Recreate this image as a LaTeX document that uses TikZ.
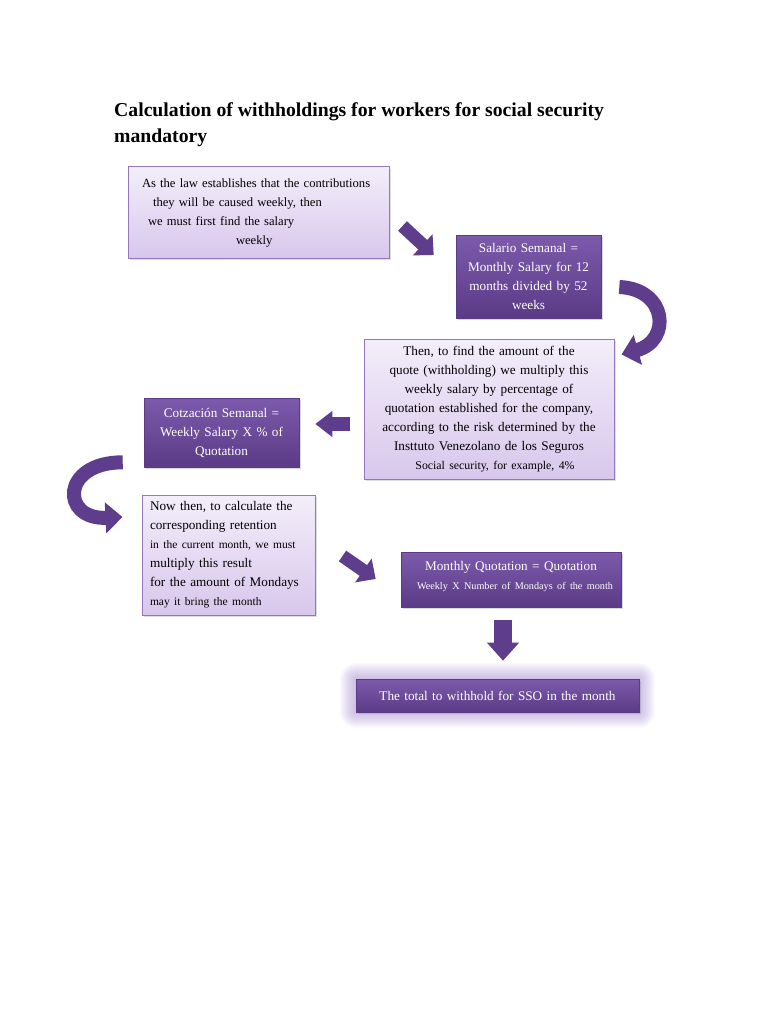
\documentclass[tikz,border=0pt]{standalone}
\usepackage{fontspec}
\setmainfont{Liberation Serif}
\usetikzlibrary{arrows.meta,shadows}

\definecolor{lightTop}{HTML}{F3EEFA}
\definecolor{lightBot}{HTML}{D8C7EC}
\definecolor{lightLine}{HTML}{9478BC}
\definecolor{darkTop}{HTML}{7D5AAC}
\definecolor{darkBot}{HTML}{5A3B86}
\definecolor{arrowPurple}{HTML}{5E3E8C}
\definecolor{glowPurple}{HTML}{9070C4}

\newcommand{\smalltext}[1]{\fontsize{#1}{19}\selectfont}

\begin{document}
\begin{tikzpicture}
	[
	x=1pt, y=-1pt, font=\fontsize{13.2}{19}\selectfont,
	%Voreinstellungen fuer Kaesten und Pfeile
	lightbox/.style={draw=lightLine, line width=1pt, top color=lightTop, bottom color=lightBot,
		inner ysep=0pt, drop shadow={opacity=0.25, shadow xshift=2pt, shadow yshift=-2pt}},
	darkbox/.style={draw=darkBot, line width=0.6pt, top color=darkTop, bottom color=darkBot,
		text=white, inner ysep=0pt, drop shadow={opacity=0.3, shadow xshift=2pt, shadow yshift=-2pt}},
	blockarrow/.style={arrowPurple, line width=13pt, -{Triangle[width=28pt,length=15pt]}},
	curvearrow/.style={arrowPurple, line width=14pt, -{Triangle[width=30pt,length=17pt]}}
	]
	
	%Seite
	\useasboundingbox (0,0) rectangle (768,1024);
	
	%Titel
	\node[anchor=north west, inner sep=0pt, align=left, font=\fontsize{19.7}{26}\selectfont\bfseries]
		(title) at (114,102) {Calculation of withholdings for workers for social security\\mandatory};
	
	%Kasten Gesetz
	\node[lightbox, text width=233pt, inner xsep=14pt, minimum height=91pt, align=left,
		font=\fontsize{12.6}{19}\selectfont]
		(law) at (258.5,212.5) {As the law establishes that the contributions\\
		\hspace*{11pt}they will be caused weekly, then\\
		\hspace*{6pt}we must first find the salary\\
		\hspace*{94pt}weekly};
	
	%Kasten Salario Semanal
	\node[darkbox, text width=133pt, inner xsep=6pt, minimum height=83pt, align=center]
		(sal) at (528.5,276.5) {Salario Semanal =\\Monthly Salary for 12\\months divided by 52\\weeks};
	
	%Kasten Quote
	\node[lightbox, text width=234pt, inner xsep=8pt, minimum height=140pt, align=center]
		(quote) at (489,409) {Then, to find the amount of the\\
		quote (withholding) we multiply this\\
		weekly salary by percentage of\\
		quotation established for the company,\\
		according to the risk determined by the\\
		Insttuto Venezolano de los Seguros\\
		{\smalltext{11.8}\hspace*{12pt}Social security, for example, 4\%}};
	
	%Kasten Cotizacion Semanal
	\node[darkbox, text width=143pt, inner xsep=6pt, minimum height=69pt, align=center]
		(cot) at (221.5,432.5) {Cotzación Semanal =\\Weekly Salary X \% of\\Quotation};
	
	%Kasten Montage
	\node[lightbox, text width=157pt, inner xsep=8pt, minimum height=120pt, align=left]
		(now) at (228.5,555) {Now then, to calculate the\\
		corresponding retention\\
		{\smalltext{11.5}in the current month, we must}\\
		multiply this result\\
		for the amount of Mondays\\
		{\smalltext{11.5}may it bring the month}};
	
	%Kasten Monthly Quotation
	\node[darkbox, text width=208pt, inner xsep=6pt, minimum height=55pt, align=center]
		(mon) at (511,579.5) {Monthly Quotation = Quotation\\
		{\fontsize{10.2}{18}\selectfont\hspace*{8pt}Weekly X Number of Mondays of the month}\\[-10pt]\mbox{}};
	
	%Leuchten hinter dem letzten Kasten
	\foreach \g in {1,...,16}
	\fill[glowPurple, opacity=0.035, rounded corners=\g pt] (356-\g,679-\g) rectangle (639+\g,712+\g);
	
	%Kasten Total
	\node[darkbox, text width=271pt, inner xsep=6pt, minimum height=33pt, align=center]
		(total) at (497.5,695.5) {The total to withhold for SSO in the month};
	
	%Endpunkte der Pfeile
	\coordinate (lawArrowA) at ([shift={(13,13.5)}]law.east);
	\coordinate (lawArrowB) at ([shift={(-22,-21.5)}]sal.west);
	\coordinate (salCurveA) at ([shift={(18,10.5)}]sal.east);
	\coordinate (salCurveB) at ([shift={(7,16)}]quote.north east);
	\coordinate (quoteArrowA) at ([shift={(-14,15)}]quote.west);
	\coordinate (quoteArrowB) at ([shift={(16,-8.5)}]cot.east);
	\coordinate (cotCurveA) at ([shift={(-21,-5)}]cot.south west);
	\coordinate (cotCurveB) at ([shift={(-19,-38)}]now.west);
	\coordinate (nowArrowA) at ([shift={(27,1)}]now.east);
	\coordinate (nowArrowB) at ([shift={(-25,-0.5)}]mon.west);
	\coordinate (monArrowA) at ([shift={(-8,13)}]mon.south);
	\coordinate (monArrowB) at ([shift={(5.5,-18)}]total.north);
	
	%Pfeile
	\draw[blockarrow] (lawArrowA) -- (lawArrowB);
	\draw[curvearrow] (salCurveA) .. controls ++(48,2) and ++(50,-14) .. (salCurveB);
	\draw[blockarrow, line width=14pt, -{Triangle[width=25pt,length=17pt]}] (quoteArrowA) -- (quoteArrowB);
	\draw[curvearrow] (cotCurveA) .. controls ++(-62,0) and ++(-62,3) .. (cotCurveB);
	\draw[blockarrow] (nowArrowA) -- (nowArrowB);
	\draw[blockarrow, line width=18pt, -{Triangle[width=31pt,length=18pt]}] (monArrowA) -- (monArrowB);
	
\end{tikzpicture}
\end{document}
